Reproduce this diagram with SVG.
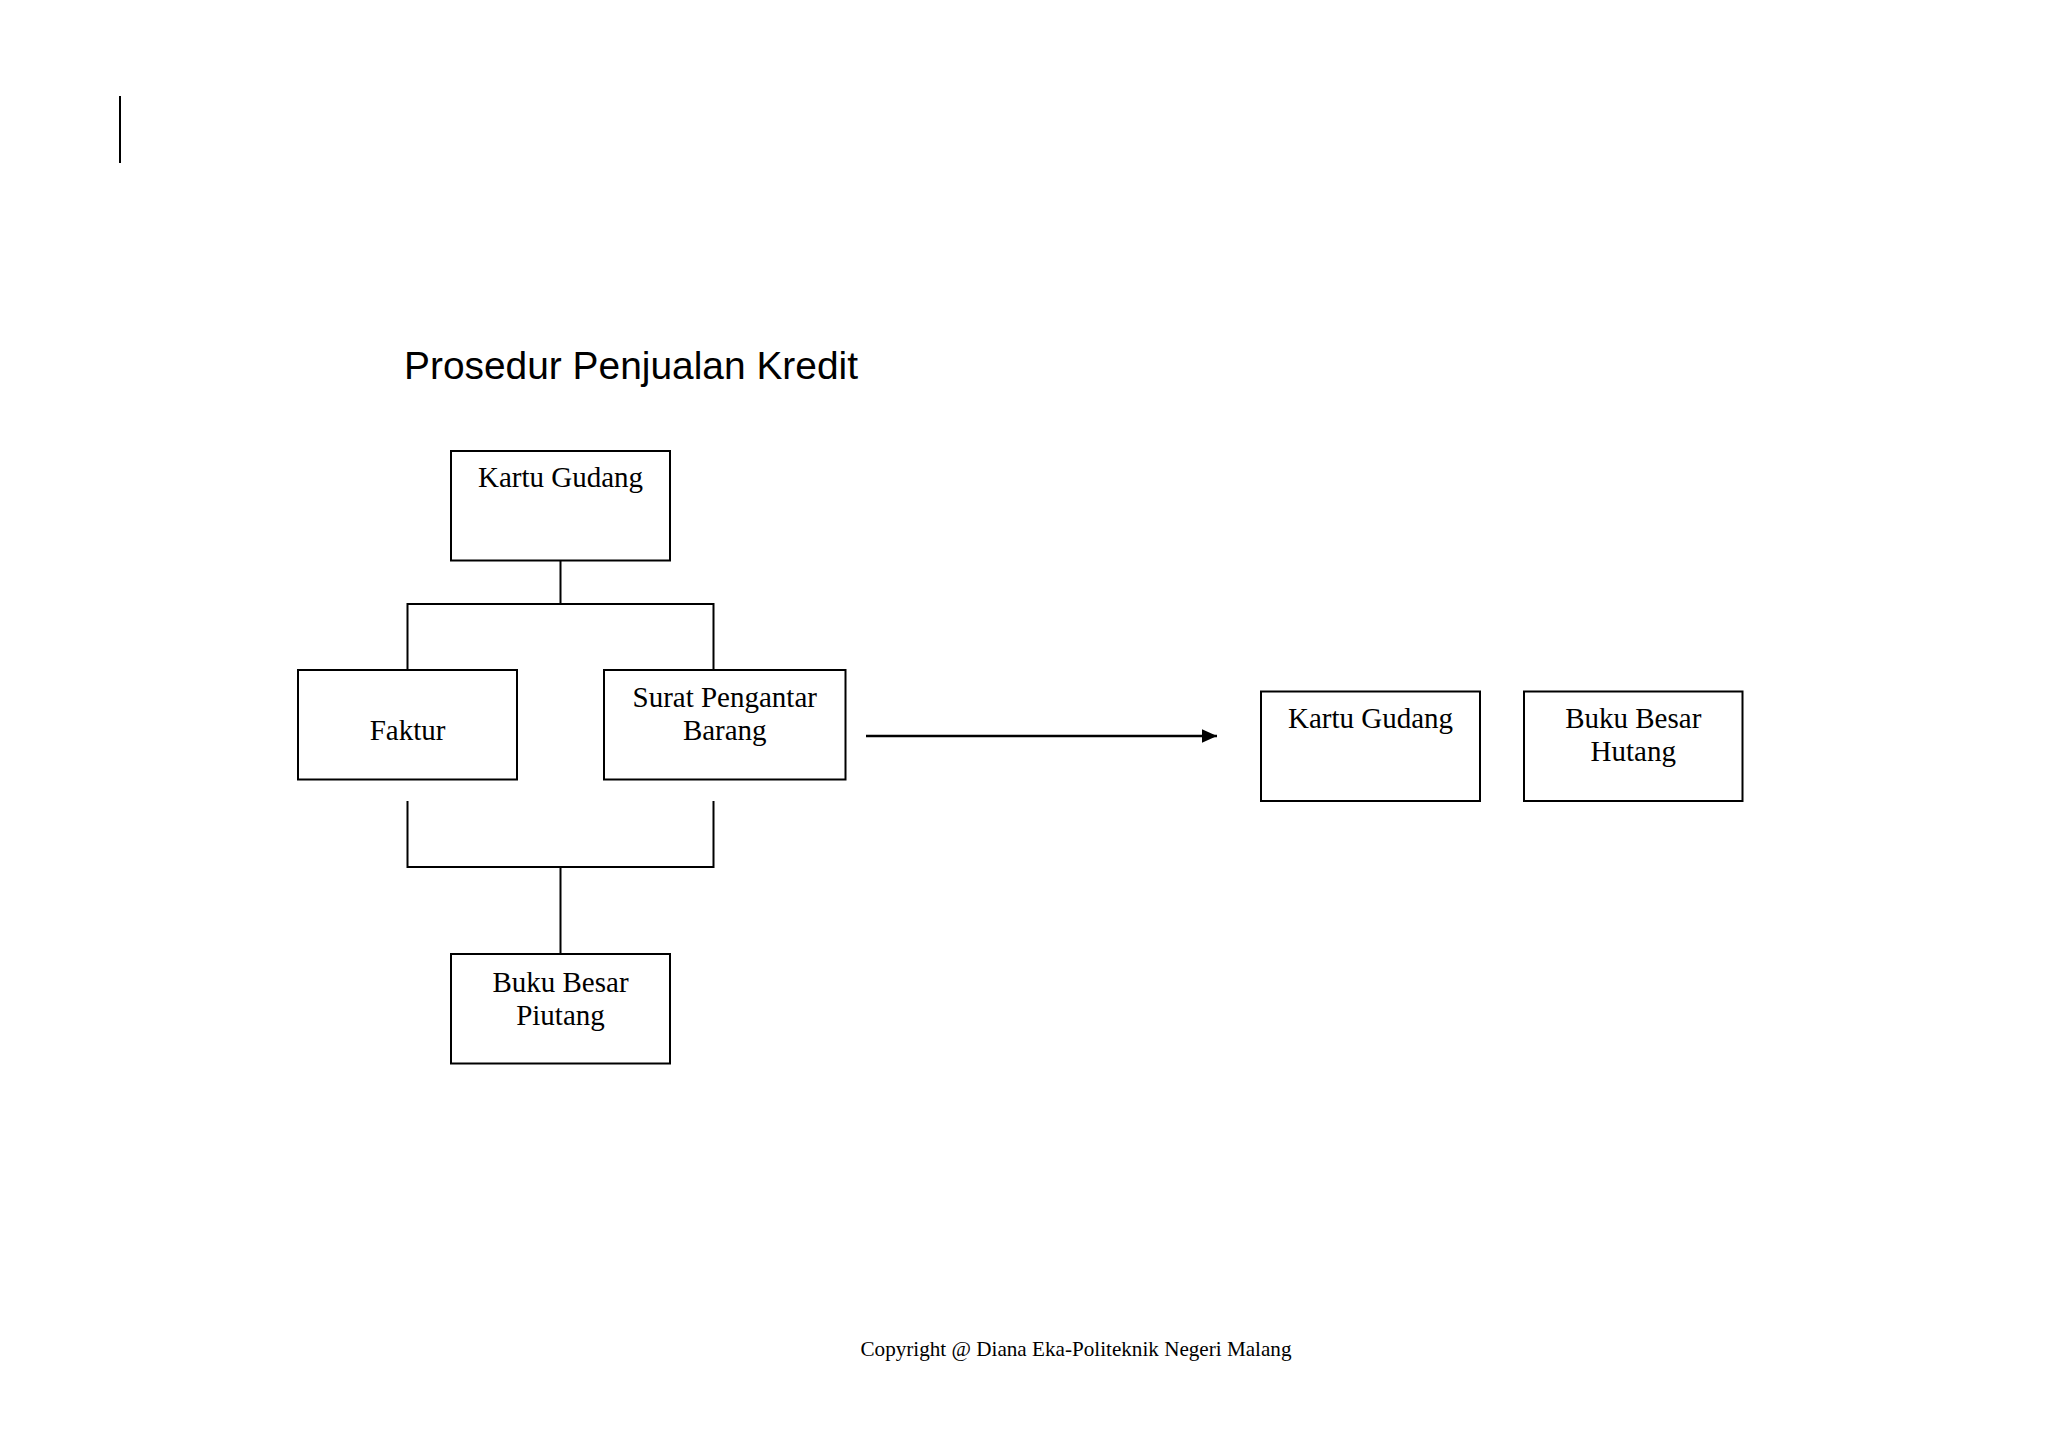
<svg xmlns="http://www.w3.org/2000/svg" width="2048" height="1449" viewBox="0 0 2048 1449">
  <style>
    .box { fill: #ffffff; stroke: #000000; stroke-width: 2; }
    .lbl { font-family: "Liberation Serif", "Times New Roman", serif; font-size: 29px; fill: #000000; text-anchor: middle; }
    .conn { fill: none; stroke: #000000; stroke-width: 2; }
  </style>
  <defs>
    <marker id="arrow" markerWidth="6" markerHeight="5.4" refX="6" refY="2.7" orient="auto" markerUnits="strokeWidth">
      <path d="M0,0 L6,2.7 L0,5.4 Z" fill="#000000"/>
    </marker>
  </defs>
  <rect x="0" y="0" width="2048" height="1449" fill="#ffffff"/>

  <line x1="120" y1="96" x2="120" y2="163" stroke="#000000" stroke-width="2"/>

  <text x="404" y="378.5" font-family="Liberation Sans, Arial, sans-serif" font-size="39" fill="#000000" textLength="454" lengthAdjust="spacingAndGlyphs">Prosedur Penjualan Kredit</text>

  <g id="connectors">
    <path class="conn" d="M560.5,561 V604 M407.5,670 V604 H713.5 V670"/>
    <path class="conn" d="M407.5,801 V867 H713.5 V801 M560.5,867 V954"/>
    <line x1="866" y1="736" x2="1217" y2="736" stroke="#000000" stroke-width="2.5" marker-end="url(#arrow)"/>
  </g>

  <g id="kartu-gudang-1">
    <rect class="box" x="451" y="451" width="219" height="109.5"/>
    <text class="lbl" x="560.5" y="487">Kartu Gudang</text>
  </g>

  <g id="faktur">
    <rect class="box" x="298" y="670" width="219" height="109.5"/>
    <text class="lbl" x="407.5" y="740">Faktur</text>
  </g>

  <g id="surat-pengantar-barang">
    <rect class="box" x="604" y="670" width="241.5" height="109.5"/>
    <text class="lbl" x="724.75" y="706.5">Surat Pengantar</text>
    <text class="lbl" x="724.75" y="740">Barang</text>
  </g>

  <g id="buku-besar-piutang">
    <rect class="box" x="451" y="954" width="219" height="109.5"/>
    <text class="lbl" x="560.5" y="991.5">Buku Besar</text>
    <text class="lbl" x="560.5" y="1024.5">Piutang</text>
  </g>

  <g id="kartu-gudang-2">
    <rect class="box" x="1261" y="691.5" width="219" height="109.5"/>
    <text class="lbl" x="1370.5" y="728">Kartu Gudang</text>
  </g>

  <g id="buku-besar-hutang">
    <rect class="box" x="1524" y="691.5" width="218.5" height="109.5"/>
    <text class="lbl" x="1633.25" y="728">Buku Besar</text>
    <text class="lbl" x="1633.25" y="761">Hutang</text>
  </g>

  <text x="860.5" y="1355.5" font-family="Liberation Serif, 'Times New Roman', serif" font-size="21.5" fill="#000000" textLength="431" lengthAdjust="spacingAndGlyphs">Copyright @ Diana Eka-Politeknik Negeri Malang</text>
</svg>
